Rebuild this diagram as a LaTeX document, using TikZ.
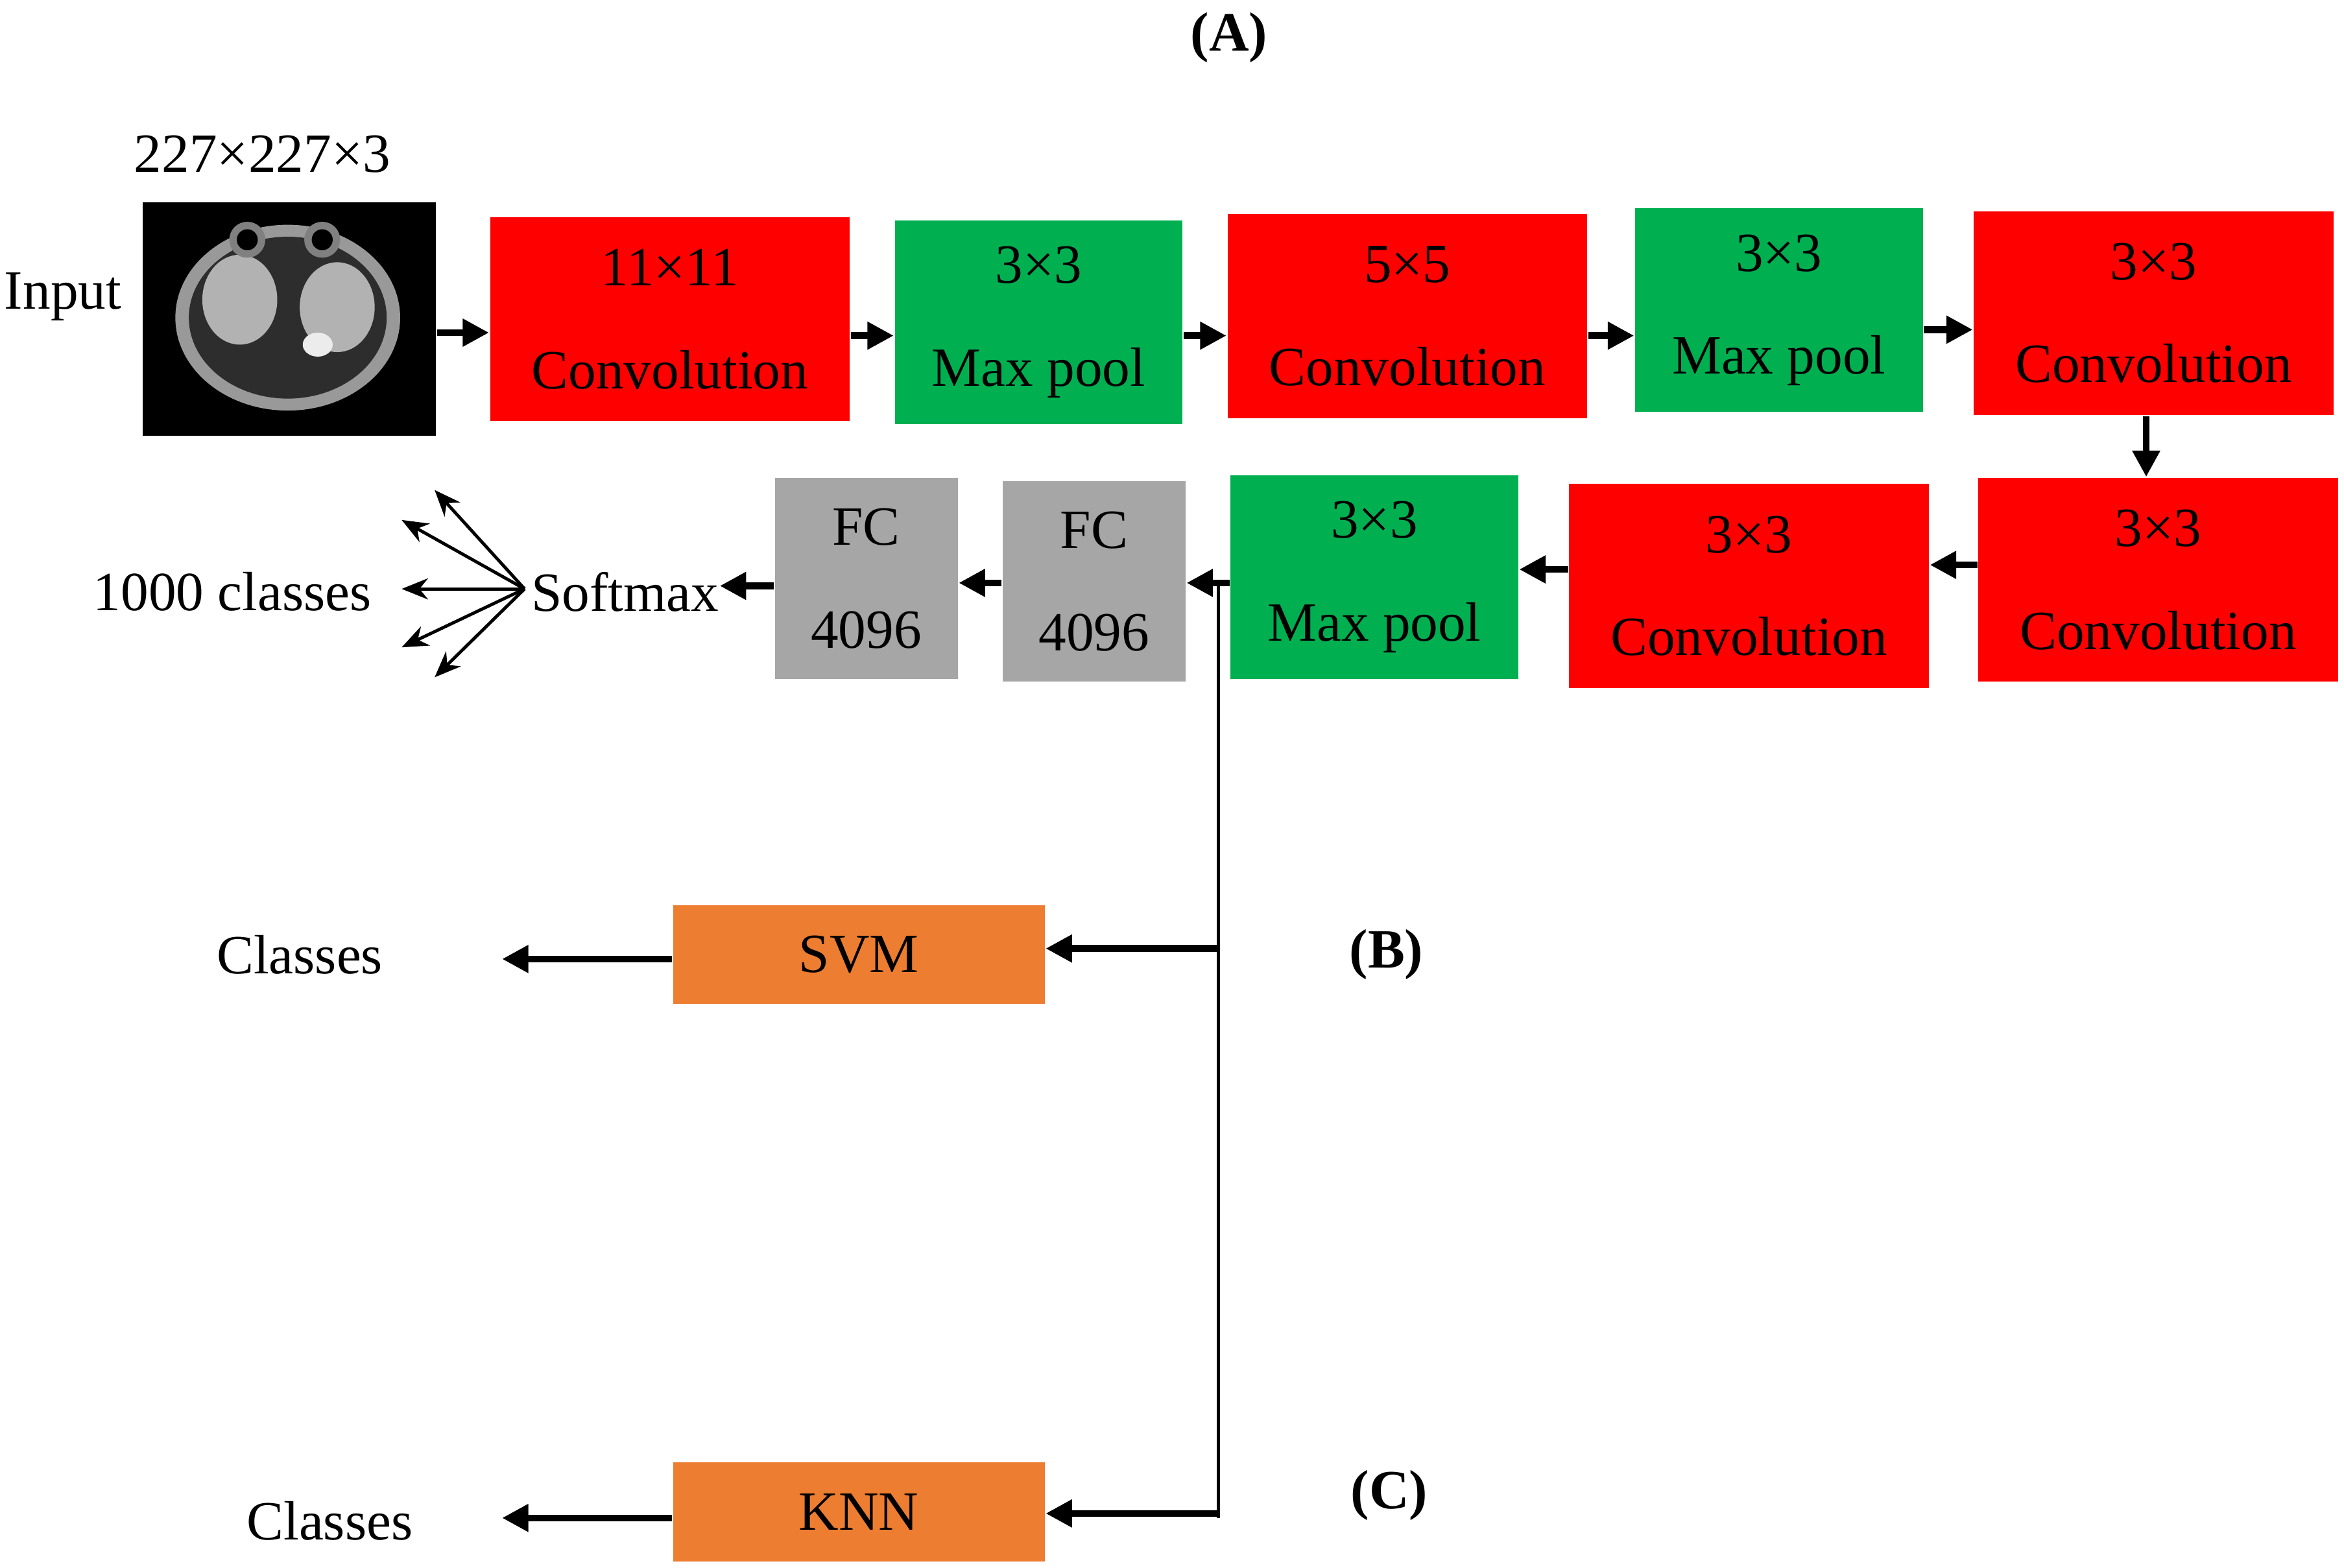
\documentclass[tikz,border=0pt]{standalone}
\usepackage{fontspec}
\setmainfont{Liberation Serif}
\usetikzlibrary{arrows.meta}
\definecolor{cred}{RGB}{255,0,0}
\definecolor{cgreen}{RGB}{0,176,80}
\definecolor{cgray}{RGB}{166,166,166}
\definecolor{corange}{RGB}{237,125,49}
\begin{document}
\begin{tikzpicture}[x=0.01cm,y=-0.01cm,
  box/.style={draw=none,inner sep=0,align=center,font=\fontsize{10.5}{19.5}\selectfont},
  lbl/.style={inner sep=0,font=\fontsize{10.5}{13}\selectfont},
  arr/.style={-{Triangle[length=5pt,width=5pt]},line width=1.3pt},
  thin/.style={-{Stealth[length=5pt,width=4pt]},line width=0.6pt}]
\useasboundingbox (0,0) rectangle (1564,1046);
\newcommand{\bx}[7]{\node[box,fill=#6,minimum width={(#4-#2)*0.01cm},minimum height={(#5-#3)*0.01cm}] (#1) at ({(#2+#4)/2},{(#3+#5)/2}) {#7};}
% image
\fill[black] (95,135) rectangle (291,291);
\node[inner sep=0,minimum width=1.96cm,minimum height=1.56cm] (img) at (193,213) {};
\fill[gray!80] (192,212) ellipse (75 and 62);
\fill[gray!35!black] (192,212) ellipse (66 and 54);
\fill[gray!60] (160,200) ellipse (25 and 30);
\fill[gray!60] (225,205) ellipse (25 and 30);
\fill[white!85!gray] (212,230) ellipse (10 and 8);
\fill[gray] (165,160) circle (12);\fill[gray] (215,160) circle (12);
\fill[black] (165,160) circle (7);\fill[black] (215,160) circle (7);
% boxes
\bx{c1}{327}{145}{567}{281}{cred}{11×11\\Convolution}
\bx{p1}{597}{147}{789}{283}{cgreen}{3×3\\Max pool}
\bx{c2}{819}{143}{1059}{279}{cred}{5×5\\Convolution}
\bx{p2}{1091}{139}{1283}{275}{cgreen}{3×3\\Max pool}
\bx{c3}{1317}{141}{1557}{277}{cred}{3×3\\Convolution}
\bx{c4}{1320}{319}{1560}{455}{cred}{3×3\\Convolution}
\bx{c5}{1047}{323}{1287}{459}{cred}{3×3\\Convolution}
\bx{p3}{821}{317}{1013}{453}{cgreen}{3×3\\Max pool}
\bx{f2}{669}{321}{791}{455}{cgray}{FC\\4096}
\bx{f1}{517}{319}{639}{453}{cgray}{FC\\4096}
\bx{svm}{449}{604}{697}{670}{corange}{SVM}
\bx{knn}{449}{976}{697}{1042}{corange}{KNN}
% labels
\node[lbl,font=\fontsize{10.5}{13}\bfseries] at (820,25) {(A)};
\node[lbl,font=\fontsize{10.5}{13}\bfseries] (B) at (925,637) {(B)};
\node[lbl,font=\fontsize{10.5}{13}\bfseries] (C) at (927,998) {(C)};
\node[lbl] (in) at (42,198) {Input};
\node[lbl] at (175,103) {227×227×3};
\node[lbl] (sm) at (417,395) {Softmax};
\node[lbl] at (155,395) {1000 classes};
\node[lbl] (cl1) at (200,637) {Classes};
\node[lbl] (cl2) at (220,1015) {Classes};
\coordinate (s) at (350,393);
% arrows row1
\draw[arr] (img.east |- 0,222) -- (c1.west |- 0,222);
\draw[arr] (c1.east |- 0,224) -- (p1.west |- 0,224);
\draw[arr] (p1.east |- 0,224) -- (c2.west |- 0,224);
\draw[arr] (c2.east |- 0,224) -- (p2.west |- 0,224);
\draw[arr] (p2.east |- 0,220) -- (c3.west |- 0,220);
\draw[arr] (c3.south -| 1432,0) -- (c4.north -| 1432,0);
% row2
\draw[arr] (c4.west |- 0,377) -- (c5.east |- 0,377);
\draw[arr] (c5.west |- 0,380) -- (p3.east |- 0,380);
\draw[arr] (p3.west |- 0,389) -- (f2.east |- 0,389);
\draw[arr] (f2.west |- 0,389) -- (f1.east |- 0,389);
\draw[arr] (f1.west |- 0,391) -- (sm.east |- 0,391);
\foreach \p in {(268,347),(290,327),(268,393),(268,432),(290,452)} \draw[thin] (s) -- \p;
% branches
\coordinate (t) at (813,389);
\coordinate (m1) at (813,633);
\coordinate (m2) at (813,1010);
\draw[line width=0.6pt] (t) -- (813,1013);
\draw[arr] (m1) -- (svm.east |- m1);
\draw[arr] (m2) -- (knn.east |- m2);
\draw[arr] (svm.west |- 0,640) -- (335,640);
\draw[arr] (knn.west |- 0,1013) -- (335,1013);
\end{tikzpicture}
\end{document}
